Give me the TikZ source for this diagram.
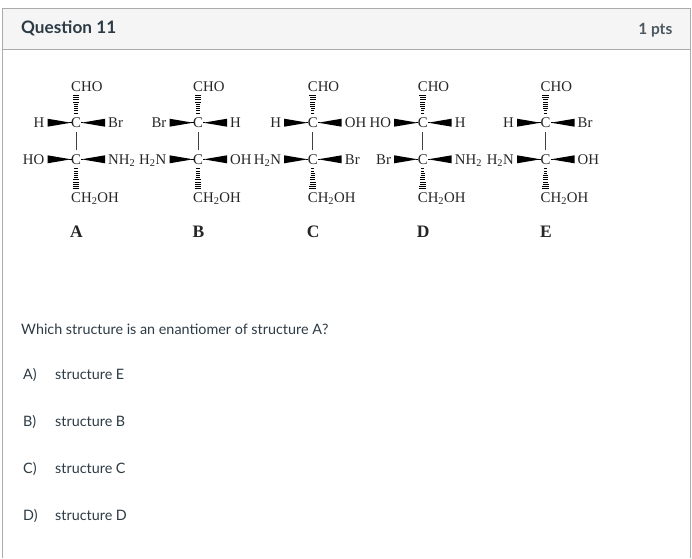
\documentclass[tikz,border=0pt]{standalone}
\usepackage{fontspec}
\setmainfont{Liberation Serif}
\newfontfamily\lato{Lato}
\usetikzlibrary{arrows.meta,decorations.markings,positioning}
\definecolor{ink}{HTML}{2D3B45}
\definecolor{rim}{HTML}{ABABAB}
\definecolor{headfill}{HTML}{F5F5F5}
\tikzset{
  x=1pt,y=-1pt,
  atom/.style={font=\fontsize{14.8}{16}\selectfont,text=black!85,inner xsep=3pt,inner ysep=2pt,text height=9.8pt,text depth=0pt},
  centre/.style={atom,inner xsep=1.5pt,inner ysep=4pt},
  lefts/.style={atom,anchor=east},
  rights/.style={atom,anchor=west},
  ends/.style={atom,anchor=west,inner xsep=0pt},
  tag/.style={font=\fontsize{17.5}{19}\selectfont\bfseries,text=black!85,inner sep=0pt},
  wedgebond/.style={line width=0pt,-{Triangle[reversed,length=23.5pt,width=8pt]},black},
  hashbond/.style={draw=none,decoration={markings,
    mark=between positions 0.5pt and 1 step 2.2pt with {
      \pgfmathsetmacro{\hw}{1.5+2.1*\pgfkeysvalueof{/pgf/decoration/mark info/distance from start}/\pgfdecoratedpathlength}
      \draw[black,line width=1.1pt] (0pt,-\hw pt) -- (0pt,\hw pt);
    }},postaction={decorate}},
  plainbond/.style={draw=black!75,line width=0.8pt},
  rimline/.style={draw=rim,line width=1pt},
  heading/.style={font=\lato\fontsize{17.2}{20}\selectfont\bfseries,text=ink,inner sep=0pt},
  body/.style={font=\lato\fontsize{14.35}{17}\selectfont,text=ink,inner sep=0pt,anchor=base west},
}
\newcommand{\molecule}[7]{%
  \node[centre] (#1u) at (#2,122.7) {C};
  \node[centre] (#1d) at (#2,159.3) {C};
  \node[ends] (#1top) at (#2-5,86.5) {CHO};
  \node[ends] (#1bot) at (#2-5,197.7) {CH\textsubscript{2}OH};
  \node[lefts] (#1a) at (#2-28.5,122.7) {#3};
  \node[rights] (#1b) at (#2+29,122.7) {#4};
  \node[lefts] (#1c) at (#2-28.5,159.3) {#5};
  \node[rights] (#1e) at (#2+29,159.3) {#6};
  \node[tag] (#1tag) at (#2+0.5,231.5) {#7};
  \draw[wedgebond] (#1u.west) -- (#1u.west -| #1a.east);
  \draw[wedgebond] (#1u.east) -- (#1u.east -| #1b.west);
  \draw[wedgebond] (#1d.west) -- (#1d.west -| #1c.east);
  \draw[wedgebond] (#1d.east) -- (#1d.east -| #1e.west);
  \draw[plainbond] (#1u.south) -- (#1d.north);
  \path[hashbond] (#1u.north) -- (#1u.north |- #1top.south);
  \path[hashbond] (#1d.south) -- (#1d.south |- #1bot.north);
}
\begin{document}
\begin{tikzpicture}
\useasboundingbox (0,0) rectangle (692,558);
\fill[white] (0,0) rectangle (692,558);
\fill[headfill] (2.5,8.5) rectangle (690,49.5);
\draw[rimline] (2.5,558) -- (2.5,8.5) -- (690,8.5) -- (690,558);
\draw[rimline] (2.5,49.5) -- (690,49.5);
\node[heading,anchor=base west] (title) at (21,33.5) {Question 11};
\node[heading,anchor=base east,font=\lato\fontsize{15.5}{18}\selectfont\bfseries,text=ink!85] (pts) at (672.5,34) {1 pts};
\molecule{A}{76}{H}{Br}{HO}{NH\textsubscript{2}}{A}
\molecule{B}{198}{Br}{H}{H\textsubscript{2}N}{OH}{B}
\molecule{C}{312.7}{H}{OH}{H\textsubscript{2}N}{Br}{C}
\molecule{D}{422.7}{HO}{H}{Br}{NH\textsubscript{2}}{D}
\molecule{E}{545.5}{H}{Br}{H\textsubscript{2}N}{OH}{E}
\node[body] (q) at (21,334) {Which structure is an enantiomer of structure A?};
\node[body] (oa) at (23,379) {A)};
\node[body] (ta) at (55,379) {structure E};
\node[body] (ob) at (23,426) {B)};
\node[body] (tb) at (55,426) {structure B};
\node[body] (oc) at (23,473) {C)};
\node[body] (tc) at (55,473) {structure C};
\node[body] (od) at (23,520) {D)};
\node[body] (td) at (55,520) {structure D};
\end{tikzpicture}
\end{document}
